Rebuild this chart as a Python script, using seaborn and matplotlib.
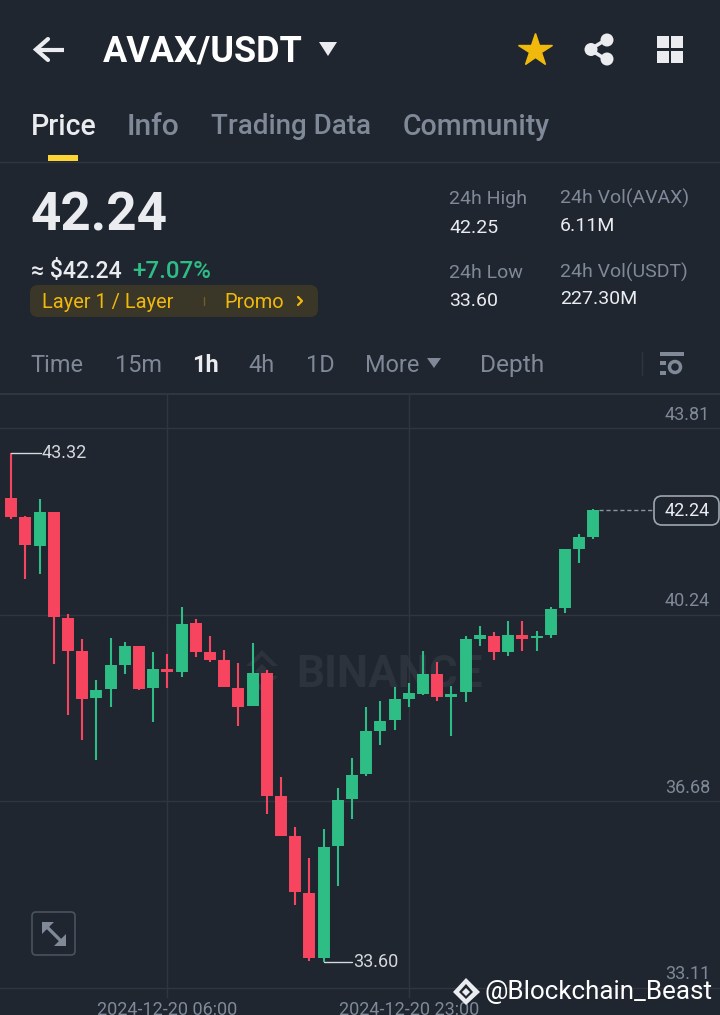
import matplotlib
matplotlib.use("Agg")
import matplotlib.pyplot as plt
import pandas as pd
import seaborn as sns
from matplotlib.patches import Circle, FancyBboxPatch, Polygon, Rectangle
from matplotlib.transforms import ScaledTranslation

# candles, one per hour
opens = [42.47, 42.46, 42.10, 41.55, 42.20, 40.18, 39.54, 38.64, 38.82, 39.28, 39.64,
         38.84, 39.19, 39.15, 40.07, 39.53, 39.38, 38.84, 38.49, 39.13, 36.78, 36.01,
         34.92, 33.68, 35.82, 36.71, 37.19, 38.02, 38.22, 38.63, 38.73, 39.10, 38.66,
         38.76, 39.78, 39.83, 39.52, 39.85, 39.80, 39.85, 40.36, 41.49, 41.73]
closes = [42.43, 42.10, 41.57, 42.20, 40.20, 39.55, 38.63, 38.80, 39.28, 39.64, 38.82,
          39.19, 39.15, 40.05, 39.53, 39.38, 38.85, 38.47, 39.13, 36.78, 36.00, 34.94,
          33.67, 35.80, 36.70, 37.17, 38.01, 38.21, 38.62, 38.74, 39.11, 38.67, 38.73,
          39.77, 39.85, 39.53, 39.85, 39.78, 39.83, 40.35, 41.49, 41.72, 42.24]
highs = [42.50, 43.32, 42.12, 42.44, 42.20, 40.25, 39.77, 38.99, 39.80, 39.71, 39.64,
         39.53, 39.49, 40.38, 40.15, 39.83, 39.56, 39.32, 39.70, 39.18, 37.13, 36.17,
         35.58, 36.14, 36.92, 37.49, 38.47, 38.59, 38.86, 38.93, 39.55, 39.34, 38.88,
         39.83, 40.03, 39.91, 40.11, 40.11, 39.93, 40.38, 41.49, 41.77, 42.25]
lows = [42.40, 42.06, 40.91, 41.01, 39.29, 38.31, 37.84, 37.45, 38.47, 39.10, 38.79,
        38.19, 38.84, 39.05, 39.43, 39.33, 38.85, 38.11, 38.49, 36.43, 36.00, 34.69,
        33.61, 33.60, 35.05, 36.33, 37.15, 37.74, 38.03, 38.48, 38.70, 38.59, 37.92,
        38.56, 39.64, 39.38, 39.45, 39.54, 39.54, 39.80, 40.27, 41.23, 41.68]

price_ticks = [43.81, 40.24, 36.68, 33.11]
time_ticks = [12, 29]
time_labels = ["2024-12-20 06:00", "2024-12-20 23:00"]

BG = "#1F2630"
GREEN = "#2EBD85"
RED = "#F8455F"
GRID = "#2F3640"
GREY = "#7F8998"
WHITE = "#EAECEF"
YELLOW = "#F0B90B"

sns.set_theme(style="dark", rc={"figure.facecolor": BG, "axes.facecolor": BG})
plt.rcParams["font.family"] = ["Roboto", "DejaVu Sans"]

fig = plt.figure(figsize=(7.2, 10.15), dpi=100)


def px_axes(z):
    a = fig.add_axes([0, 0, 1, 1], zorder=z)
    a.set_xlim(0, 720)
    a.set_ylim(1015, 0)
    a.axis("off")
    return a


back = px_axes(0)
ui = px_axes(5)


def txt(x, y, s, px, color=WHITE, weight="normal", ha="left", a=None):
    # va center sits about 2px high for these fonts
    (a or ui).text(x, y + 2, s, fontsize=px * 0.72, color=color, weight=weight, ha=ha, va="center")


def poly(pts, color, a=None):
    (a or ui).add_patch(Polygon(pts, fc=color, ec="none", lw=0))


# chart
ax = fig.add_axes([0, 17 / 1015, 1, 604 / 1015], zorder=2)
ax.patch.set_alpha(0)

rows = []
bodies = []
for i in range(len(opens)):
    d = "up" if closes[i] >= opens[i] else "down"
    rows.append({"i": i, "price": lows[i], "dir": d})
    rows.append({"i": i, "price": highs[i], "dir": d})
    bodies.append({"i": i, "price": opens[i], "dir": d})
    bodies.append({"i": i, "price": closes[i], "dir": d})
wicks = pd.DataFrame(rows)
boxes = pd.DataFrame(bodies)
pal = {"up": GREEN, "down": RED}

sns.lineplot(data=wicks, x="i", y="price", units="i", hue="dir", palette=pal, estimator=None,
             sort=False, lw=1.5, legend=False, ax=ax, solid_capstyle="butt", zorder=3)
sns.lineplot(data=boxes, x="i", y="price", units="i", hue="dir", palette=pal, estimator=None,
             sort=False, lw=8.6, legend=False, ax=ax, solid_capstyle="butt", zorder=4)

ax.set_xlim(0.211, 50.915)
ax.set_ylim(32.91, 44.455)
ax.set_xlabel("")
ax.set_ylabel("")
ax.set_xticks(time_ticks, time_labels)
ax.set_yticks(price_ticks, [f"{p:.2f}" for p in price_ticks])
ax.grid(True, color=GRID, lw=1)
ax.set_axisbelow(True)
for s in ax.spines.values():
    s.set_visible(False)
ax.tick_params(axis="x", length=0, pad=2, labelsize=13, labelcolor=GREY)
ax.tick_params(axis="y", length=0, pad=-39.6, labelsize=13, labelcolor=GREY,
               labelleft=False, labelright=True)
for lab in ax.get_yticklabels():
    lab.set_verticalalignment("bottom")
    lab.set_transform(lab.get_transform() + ScaledTranslation(0, 3 / 72, fig.dpi_scale_trans))

# high / low / last price callouts
ax.plot([1, 3.1], [43.32, 43.32], color="#D5D8DC", lw=1, zorder=5)
ax.text(3.15, 43.32, "43.32", color="#D5D8DC", fontsize=13, va="center")
ax.plot([23, 25], [33.60, 33.60], color="#D5D8DC", lw=1, zorder=5)
ax.text(25.07, 33.60, "33.60", color="#D5D8DC", fontsize=13, va="center")
ax.plot([42.4, 46.1], [42.24, 42.24], color="#8C94A0", lw=1, ls=(0, (3, 2)), zorder=5)
ui.add_patch(FancyBboxPatch((654, 496), 65, 29, boxstyle="round,pad=0,rounding_size=8",
                            lw=1.2, ec="#A0A6B0", fc=BG))
txt(687, 509.5, "42.24", 18, color=WHITE, ha="center")

# faint BINANCE mark behind the candles
MARK = "#2C333D"
txt(296, 673, "BINANCE", 44, color=MARK, weight="bold", a=back)
poly([(262, 664), (269, 671), (262, 678), (255, 671)], MARK, back)
poly([(262, 650), (278, 666), (272, 666), (262, 656), (252, 666), (246, 666)], MARK, back)
poly([(262, 692), (278, 676), (272, 676), (262, 686), (252, 676), (246, 676)], MARK, back)

# header
ui.plot([37, 64], [49.5, 49.5], color=WHITE, lw=3, solid_capstyle="butt")
ui.plot([48, 36, 48], [39, 49.5, 60], color=WHITE, lw=3, solid_joinstyle="miter")
txt(103, 49, "AVAX/USDT", 36, color="#FFFFFF", weight="bold")
poly([(319, 42), (337, 42), (328, 56)], WHITE)
ui.plot([535], [49.5], marker="*", ms=25, color=YELLOW, mec=YELLOW)
ui.plot([607, 590, 607], [39, 49.5, 60], color=WHITE, lw=2.6)
for cx, cy in [(607, 40), (591, 49.5), (607, 59)]:
    ui.add_patch(Circle((cx, cy), 6.5, fc=WHITE, lw=0))
for gx, gy in [(657, 36), (671, 36), (657, 51), (671, 51)]:
    ui.add_patch(Rectangle((gx, gy), 12, 11.5, fc=WHITE, lw=0))

txt(31, 124.5, "Price", 28.5, weight="medium")
txt(127, 124.5, "Info", 30, color=GREY, weight="medium")
txt(211, 124.5, "Trading Data", 27.8, color=GREY, weight="medium")
txt(403, 124.5, "Community", 28.5, color=GREY, weight="medium")
ui.add_patch(Rectangle((48, 155), 30, 6, fc="#FCD535", lw=0))
ui.plot([0, 720], [161.5, 161.5], color=GRID, lw=1)

# price block
txt(31, 214, "42.24", 53, weight="bold")
txt(31, 269, "≈ $42.24", 23, weight="medium")
txt(132, 269, "+7.07%", 24, color=GREEN, weight="medium")
ui.add_patch(FancyBboxPatch((30, 285), 288, 32, boxstyle="round,pad=0,rounding_size=8",
                            lw=0, fc="#3A3628"))
txt(42, 300, "Layer 1 / Layer", 20, color=YELLOW)
ui.plot([204, 204], [297, 305], color="#6B5F2A", lw=1)
txt(224, 300, "Promo", 20, color=YELLOW)
ui.plot([298, 302, 298], [297, 301, 305], color=YELLOW, lw=1.6)

txt(449, 197, "24h High", 19.5, color=GREY)
txt(449, 226, "42.25", 19.5)
txt(449, 271, "24h Low", 19.5, color=GREY)
txt(449, 299, "33.60", 19.5)
txt(560, 196, "24h Vol(AVAX)", 19.5, color=GREY)
txt(560, 224, "6.11M", 19.5)
txt(560, 270, "24h Vol(USDT)", 19.5, color=GREY)
txt(560, 297, "227.30M", 19.5)

# interval row
txt(30, 363.5, "Time", 23.5, color=GREY)
txt(115, 363.5, "15m", 23.5, color=GREY)
txt(192, 363.5, "1h", 23.5, color=WHITE, weight="bold")
txt(248, 363.5, "4h", 23.5, color=GREY)
txt(306, 363.5, "1D", 23.5, color=GREY)
txt(365, 363.5, "More", 23.5, color=GREY)
poly([(427, 358), (441, 358), (434, 368)], GREY)
txt(480, 363.5, "Depth", 24.5, color=GREY)
ui.plot([642, 642], [352, 375], color=GRID, lw=1)
ui.add_patch(Rectangle((660, 352), 24, 3.5, fc=GREY, lw=0))
ui.add_patch(Rectangle((660, 361), 6, 4, fc=GREY, lw=0))
ui.add_patch(Rectangle((660, 371), 6, 4, fc=GREY, lw=0))
ui.add_patch(Circle((675, 367), 5.5, fc=BG, ec=GREY, lw=2.5))
ui.plot([0, 720], [394, 394], color=GRID, lw=1.5)

# expand button
ui.add_patch(FancyBboxPatch((32, 912), 43, 43, boxstyle="round,pad=0,rounding_size=4",
                            lw=1.2, ec="#4A525E", fc=BG))
poly([(42, 922), (54, 922), (42, 934)], GREY)
poly([(66, 946), (54, 946), (66, 934)], GREY)
ui.plot([46, 62], [926, 942], color=GREY, lw=2.4)

# watermark
txt(485, 990, "@Blockchain_Beast", 26, color="#FFFFFF")
poly([(466, 978), (480, 992), (466, 1005), (453, 992)], WHITE)
poly([(466, 984), (473, 992), (466, 999), (459, 992)], BG)
poly([(466, 988), (470, 992), (466, 996), (462, 992)], WHITE)

fig.savefig("out.png", dpi=100, facecolor=BG)
